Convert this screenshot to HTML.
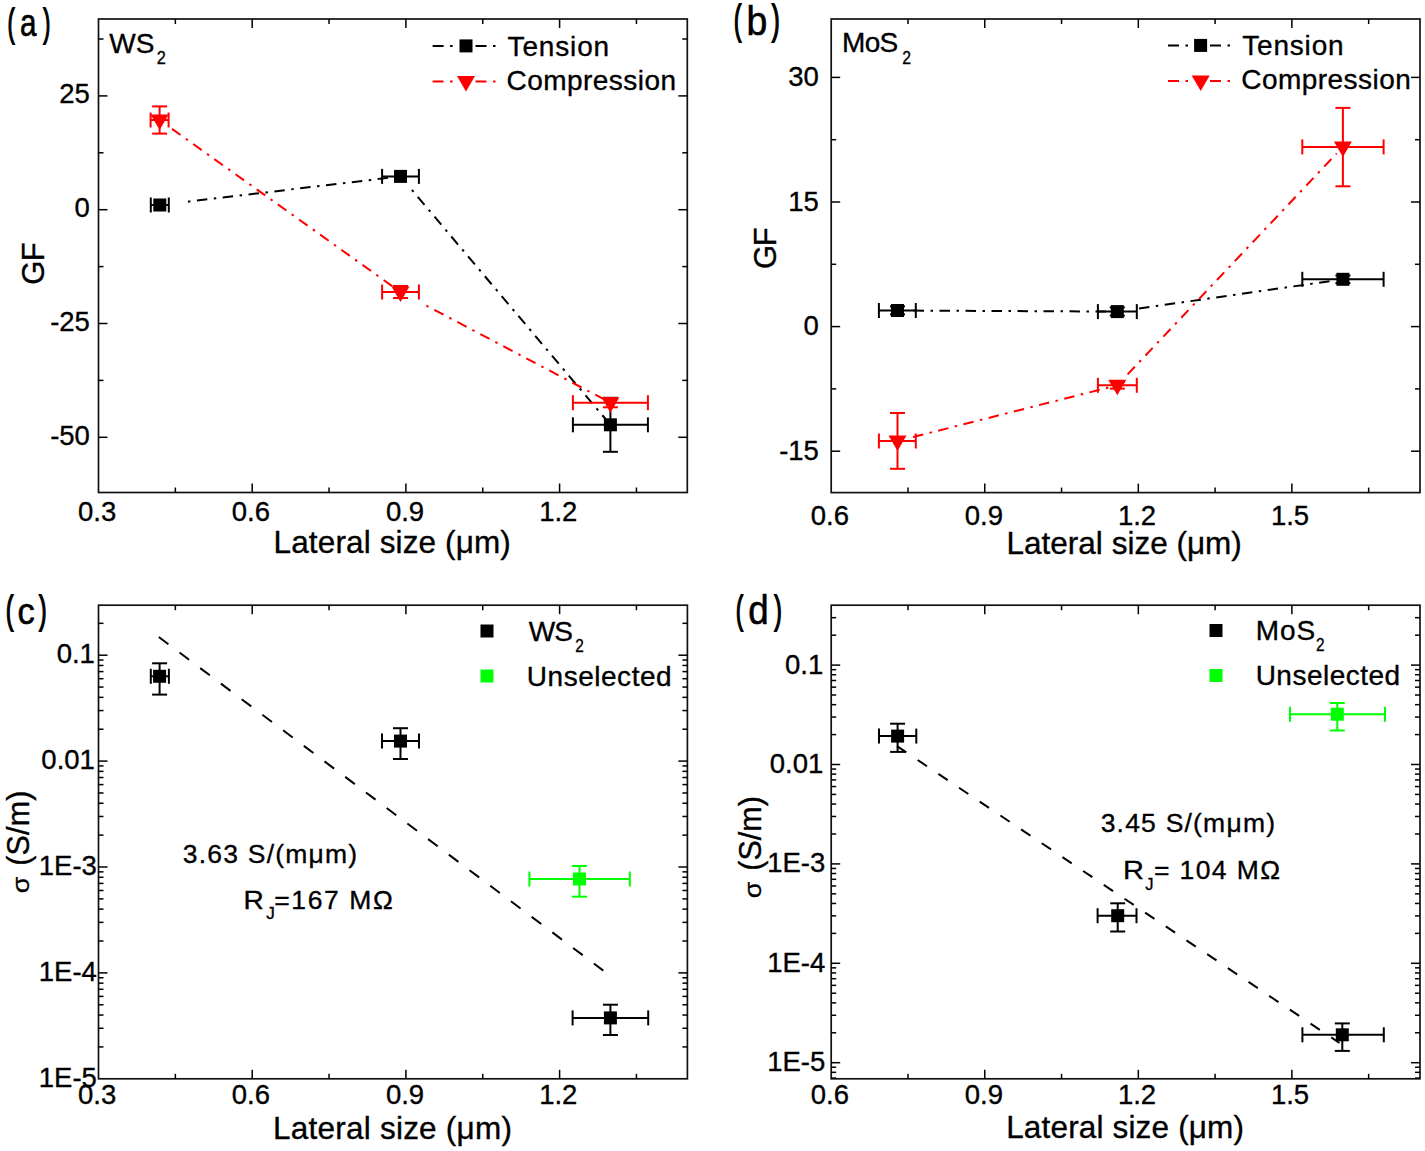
<!DOCTYPE html>
<html><head><meta charset="utf-8"><style>html,body{margin:0;padding:0;background:#fff;overflow:hidden;}svg{display:block;}text{font-family:"Liberation Sans",sans-serif;stroke:#000;stroke-width:0.35px;}</style></head>
<body><svg width="1425" height="1151" viewBox="0 0 1425 1151">
<rect width="1425" height="1151" fill="#fff"/>
<rect x="98.5" y="19" width="588.8" height="473.5" fill="none" stroke="#111" stroke-width="1.7"/>
<line x1="175.35" y1="492.50" x2="175.35" y2="487.50" stroke="#000" stroke-width="1.5"/>
<line x1="175.35" y1="19.00" x2="175.35" y2="24.00" stroke="#000" stroke-width="1.5"/>
<line x1="252.20" y1="492.50" x2="252.20" y2="483.50" stroke="#000" stroke-width="1.5"/>
<line x1="252.20" y1="19.00" x2="252.20" y2="28.00" stroke="#000" stroke-width="1.5"/>
<line x1="329.05" y1="492.50" x2="329.05" y2="487.50" stroke="#000" stroke-width="1.5"/>
<line x1="329.05" y1="19.00" x2="329.05" y2="24.00" stroke="#000" stroke-width="1.5"/>
<line x1="405.90" y1="492.50" x2="405.90" y2="483.50" stroke="#000" stroke-width="1.5"/>
<line x1="405.90" y1="19.00" x2="405.90" y2="28.00" stroke="#000" stroke-width="1.5"/>
<line x1="482.75" y1="492.50" x2="482.75" y2="487.50" stroke="#000" stroke-width="1.5"/>
<line x1="482.75" y1="19.00" x2="482.75" y2="24.00" stroke="#000" stroke-width="1.5"/>
<line x1="559.60" y1="492.50" x2="559.60" y2="483.50" stroke="#000" stroke-width="1.5"/>
<line x1="559.60" y1="19.00" x2="559.60" y2="28.00" stroke="#000" stroke-width="1.5"/>
<line x1="636.45" y1="492.50" x2="636.45" y2="487.50" stroke="#000" stroke-width="1.5"/>
<line x1="636.45" y1="19.00" x2="636.45" y2="24.00" stroke="#000" stroke-width="1.5"/>
<line x1="98.50" y1="39.00" x2="103.50" y2="39.00" stroke="#000" stroke-width="1.5"/>
<line x1="687.30" y1="39.00" x2="682.30" y2="39.00" stroke="#000" stroke-width="1.5"/>
<line x1="98.50" y1="95.90" x2="107.50" y2="95.90" stroke="#000" stroke-width="1.5"/>
<line x1="687.30" y1="95.90" x2="678.30" y2="95.90" stroke="#000" stroke-width="1.5"/>
<line x1="98.50" y1="152.80" x2="103.50" y2="152.80" stroke="#000" stroke-width="1.5"/>
<line x1="687.30" y1="152.80" x2="682.30" y2="152.80" stroke="#000" stroke-width="1.5"/>
<line x1="98.50" y1="209.70" x2="107.50" y2="209.70" stroke="#000" stroke-width="1.5"/>
<line x1="687.30" y1="209.70" x2="678.30" y2="209.70" stroke="#000" stroke-width="1.5"/>
<line x1="98.50" y1="266.60" x2="103.50" y2="266.60" stroke="#000" stroke-width="1.5"/>
<line x1="687.30" y1="266.60" x2="682.30" y2="266.60" stroke="#000" stroke-width="1.5"/>
<line x1="98.50" y1="323.50" x2="107.50" y2="323.50" stroke="#000" stroke-width="1.5"/>
<line x1="687.30" y1="323.50" x2="678.30" y2="323.50" stroke="#000" stroke-width="1.5"/>
<line x1="98.50" y1="380.40" x2="103.50" y2="380.40" stroke="#000" stroke-width="1.5"/>
<line x1="687.30" y1="380.40" x2="682.30" y2="380.40" stroke="#000" stroke-width="1.5"/>
<line x1="98.50" y1="437.30" x2="107.50" y2="437.30" stroke="#000" stroke-width="1.5"/>
<line x1="687.30" y1="437.30" x2="678.30" y2="437.30" stroke="#000" stroke-width="1.5"/>
<g font-family="Liberation Sans">
</g>
<path d="M187.95,201.65 L392.56,177.34" fill="none" stroke="#000" stroke-width="2" stroke-dasharray="10.5,6.5,2.5,6.5" stroke-dashoffset="17"/>
<path d="M411.92,189.92 L606.53,420.22" fill="none" stroke="#000" stroke-width="2" stroke-dasharray="10.5,6.5,2.5,6.5" stroke-dashoffset="17"/>
<path d="M172.05,128.89 L393.18,286.77" fill="none" stroke="#f00" stroke-width="2" stroke-dasharray="10.5,6.5,2.5,6.5" stroke-dashoffset="0"/>
<path d="M426.33,305.62 L603.32,398.97" fill="none" stroke="#f00" stroke-width="2" stroke-dasharray="10.5,6.5,2.5,6.5" stroke-dashoffset="17"/>
<line x1="150.80" y1="205.00" x2="168.80" y2="205.00" stroke="#000" stroke-width="2"/>
<line x1="150.80" y1="197.50" x2="150.80" y2="212.50" stroke="#000" stroke-width="2"/>
<line x1="168.80" y1="197.50" x2="168.80" y2="212.50" stroke="#000" stroke-width="2"/>
<rect x="153.30" y="198.50" width="13" height="13" fill="#000"/>
<line x1="382.10" y1="176.40" x2="418.90" y2="176.40" stroke="#000" stroke-width="2"/>
<line x1="382.10" y1="168.90" x2="382.10" y2="183.90" stroke="#000" stroke-width="2"/>
<line x1="418.90" y1="168.90" x2="418.90" y2="183.90" stroke="#000" stroke-width="2"/>
<rect x="394.00" y="169.90" width="13" height="13" fill="#000"/>
<line x1="572.90" y1="424.80" x2="647.90" y2="424.80" stroke="#000" stroke-width="2"/>
<line x1="572.90" y1="417.30" x2="572.90" y2="432.30" stroke="#000" stroke-width="2"/>
<line x1="647.90" y1="417.30" x2="647.90" y2="432.30" stroke="#000" stroke-width="2"/>
<line x1="610.40" y1="397.80" x2="610.40" y2="451.80" stroke="#000" stroke-width="2"/>
<line x1="602.90" y1="397.80" x2="617.90" y2="397.80" stroke="#000" stroke-width="2"/>
<line x1="602.90" y1="451.80" x2="617.90" y2="451.80" stroke="#000" stroke-width="2"/>
<rect x="603.90" y="418.30" width="13" height="13" fill="#000"/>
<line x1="150.60" y1="120.00" x2="168.60" y2="120.00" stroke="#f00" stroke-width="2"/>
<line x1="150.60" y1="112.50" x2="150.60" y2="127.50" stroke="#f00" stroke-width="2"/>
<line x1="168.60" y1="112.50" x2="168.60" y2="127.50" stroke="#f00" stroke-width="2"/>
<line x1="159.60" y1="106.40" x2="159.60" y2="133.60" stroke="#f00" stroke-width="2"/>
<line x1="152.10" y1="106.40" x2="167.10" y2="106.40" stroke="#f00" stroke-width="2"/>
<line x1="152.10" y1="133.60" x2="167.10" y2="133.60" stroke="#f00" stroke-width="2"/>
<path d="M150.60,114.50 L168.60,114.50 L159.60,130.00 Z" fill="#f00"/>
<line x1="382.10" y1="292.00" x2="418.90" y2="292.00" stroke="#f00" stroke-width="2"/>
<line x1="382.10" y1="284.50" x2="382.10" y2="299.50" stroke="#f00" stroke-width="2"/>
<line x1="418.90" y1="284.50" x2="418.90" y2="299.50" stroke="#f00" stroke-width="2"/>
<line x1="400.50" y1="286.00" x2="400.50" y2="298.00" stroke="#f00" stroke-width="2"/>
<line x1="393.00" y1="286.00" x2="408.00" y2="286.00" stroke="#f00" stroke-width="2"/>
<line x1="393.00" y1="298.00" x2="408.00" y2="298.00" stroke="#f00" stroke-width="2"/>
<path d="M391.50,286.50 L409.50,286.50 L400.50,302.00 Z" fill="#f00"/>
<line x1="572.90" y1="402.70" x2="647.90" y2="402.70" stroke="#f00" stroke-width="2"/>
<line x1="572.90" y1="395.20" x2="572.90" y2="410.20" stroke="#f00" stroke-width="2"/>
<line x1="647.90" y1="395.20" x2="647.90" y2="410.20" stroke="#f00" stroke-width="2"/>
<line x1="610.40" y1="398.10" x2="610.40" y2="407.30" stroke="#f00" stroke-width="2"/>
<line x1="602.90" y1="398.10" x2="617.90" y2="398.10" stroke="#f00" stroke-width="2"/>
<line x1="602.90" y1="407.30" x2="617.90" y2="407.30" stroke="#f00" stroke-width="2"/>
<path d="M601.40,397.20 L619.40,397.20 L610.40,412.70 Z" fill="#f00"/>
<path d="M432.60,45.90 L453.50,45.90" fill="none" stroke="#000" stroke-width="2" stroke-dasharray="11,6.5,2.5,6.3" stroke-dashoffset="0"/>
<path d="M475.50,45.90 L496.50,45.90" fill="none" stroke="#000" stroke-width="2" stroke-dasharray="11,6.5,2.5,6.3" stroke-dashoffset="0"/>
<rect x="459.50" y="39.40" width="13" height="13" fill="#000"/>
<path d="M432.60,81.50 L453.50,81.50" fill="none" stroke="#f00" stroke-width="2" stroke-dasharray="11,6.5,2.5,6.3" stroke-dashoffset="0"/>
<path d="M475.50,81.50 L496.50,81.50" fill="none" stroke="#f00" stroke-width="2" stroke-dasharray="11,6.5,2.5,6.3" stroke-dashoffset="0"/>
<path d="M457.00,76.00 L475.00,76.00 L466.00,91.50 Z" fill="#f00"/>
<rect x="831.2" y="19" width="588.8" height="473.6" fill="none" stroke="#111" stroke-width="1.7"/>
<line x1="907.98" y1="492.60" x2="907.98" y2="487.60" stroke="#000" stroke-width="1.5"/>
<line x1="907.98" y1="19.00" x2="907.98" y2="24.00" stroke="#000" stroke-width="1.5"/>
<line x1="984.76" y1="492.60" x2="984.76" y2="483.60" stroke="#000" stroke-width="1.5"/>
<line x1="984.76" y1="19.00" x2="984.76" y2="28.00" stroke="#000" stroke-width="1.5"/>
<line x1="1061.54" y1="492.60" x2="1061.54" y2="487.60" stroke="#000" stroke-width="1.5"/>
<line x1="1061.54" y1="19.00" x2="1061.54" y2="24.00" stroke="#000" stroke-width="1.5"/>
<line x1="1138.32" y1="492.60" x2="1138.32" y2="483.60" stroke="#000" stroke-width="1.5"/>
<line x1="1138.32" y1="19.00" x2="1138.32" y2="28.00" stroke="#000" stroke-width="1.5"/>
<line x1="1215.10" y1="492.60" x2="1215.10" y2="487.60" stroke="#000" stroke-width="1.5"/>
<line x1="1215.10" y1="19.00" x2="1215.10" y2="24.00" stroke="#000" stroke-width="1.5"/>
<line x1="1291.88" y1="492.60" x2="1291.88" y2="483.60" stroke="#000" stroke-width="1.5"/>
<line x1="1291.88" y1="19.00" x2="1291.88" y2="28.00" stroke="#000" stroke-width="1.5"/>
<line x1="1368.66" y1="492.60" x2="1368.66" y2="487.60" stroke="#000" stroke-width="1.5"/>
<line x1="1368.66" y1="19.00" x2="1368.66" y2="24.00" stroke="#000" stroke-width="1.5"/>
<line x1="831.20" y1="77.40" x2="840.20" y2="77.40" stroke="#000" stroke-width="1.5"/>
<line x1="1420.00" y1="77.40" x2="1411.00" y2="77.40" stroke="#000" stroke-width="1.5"/>
<line x1="831.20" y1="139.70" x2="836.20" y2="139.70" stroke="#000" stroke-width="1.5"/>
<line x1="1420.00" y1="139.70" x2="1415.00" y2="139.70" stroke="#000" stroke-width="1.5"/>
<line x1="831.20" y1="202.00" x2="840.20" y2="202.00" stroke="#000" stroke-width="1.5"/>
<line x1="1420.00" y1="202.00" x2="1411.00" y2="202.00" stroke="#000" stroke-width="1.5"/>
<line x1="831.20" y1="264.30" x2="836.20" y2="264.30" stroke="#000" stroke-width="1.5"/>
<line x1="1420.00" y1="264.30" x2="1415.00" y2="264.30" stroke="#000" stroke-width="1.5"/>
<line x1="831.20" y1="326.60" x2="840.20" y2="326.60" stroke="#000" stroke-width="1.5"/>
<line x1="1420.00" y1="326.60" x2="1411.00" y2="326.60" stroke="#000" stroke-width="1.5"/>
<line x1="831.20" y1="388.90" x2="836.20" y2="388.90" stroke="#000" stroke-width="1.5"/>
<line x1="1420.00" y1="388.90" x2="1415.00" y2="388.90" stroke="#000" stroke-width="1.5"/>
<line x1="831.20" y1="451.20" x2="840.20" y2="451.20" stroke="#000" stroke-width="1.5"/>
<line x1="1420.00" y1="451.20" x2="1411.00" y2="451.20" stroke="#000" stroke-width="1.5"/>
<path d="M913.50,310.58 L1109.30,311.56" fill="none" stroke="#000" stroke-width="2" stroke-dasharray="10.5,6.5,2.5,6.5" stroke-dashoffset="0"/>
<path d="M1138.98,308.50 L1334.98,280.43" fill="none" stroke="#000" stroke-width="2" stroke-dasharray="10.5,6.5,2.5,6.5" stroke-dashoffset="0"/>
<path d="M913.01,437.07 L1108.58,387.51" fill="none" stroke="#f00" stroke-width="2" stroke-dasharray="10.5,6.5,2.5,6.5" stroke-dashoffset="0"/>
<path d="M1127.61,374.40 L1336.71,153.44" fill="none" stroke="#f00" stroke-width="2" stroke-dasharray="10.5,6.5,2.5,6.5" stroke-dashoffset="0"/>
<line x1="878.90" y1="310.50" x2="915.80" y2="310.50" stroke="#000" stroke-width="2"/>
<line x1="878.90" y1="303.00" x2="878.90" y2="318.00" stroke="#000" stroke-width="2"/>
<line x1="915.80" y1="303.00" x2="915.80" y2="318.00" stroke="#000" stroke-width="2"/>
<line x1="897.50" y1="306.40" x2="897.50" y2="314.40" stroke="#000" stroke-width="2"/>
<line x1="890.00" y1="306.40" x2="905.00" y2="306.40" stroke="#000" stroke-width="2"/>
<line x1="890.00" y1="314.40" x2="905.00" y2="314.40" stroke="#000" stroke-width="2"/>
<rect x="891.00" y="304.00" width="13" height="13" fill="#000"/>
<line x1="1097.90" y1="311.60" x2="1136.80" y2="311.60" stroke="#000" stroke-width="2"/>
<line x1="1097.90" y1="304.10" x2="1097.90" y2="319.10" stroke="#000" stroke-width="2"/>
<line x1="1136.80" y1="304.10" x2="1136.80" y2="319.10" stroke="#000" stroke-width="2"/>
<line x1="1117.30" y1="307.40" x2="1117.30" y2="315.60" stroke="#000" stroke-width="2"/>
<line x1="1109.80" y1="307.40" x2="1124.80" y2="307.40" stroke="#000" stroke-width="2"/>
<line x1="1109.80" y1="315.60" x2="1124.80" y2="315.60" stroke="#000" stroke-width="2"/>
<rect x="1110.80" y="305.10" width="13" height="13" fill="#000"/>
<line x1="1302.30" y1="279.30" x2="1383.60" y2="279.30" stroke="#000" stroke-width="2"/>
<line x1="1302.30" y1="271.80" x2="1302.30" y2="286.80" stroke="#000" stroke-width="2"/>
<line x1="1383.60" y1="271.80" x2="1383.60" y2="286.80" stroke="#000" stroke-width="2"/>
<line x1="1342.90" y1="275.50" x2="1342.90" y2="283.10" stroke="#000" stroke-width="2"/>
<line x1="1335.40" y1="275.50" x2="1350.40" y2="275.50" stroke="#000" stroke-width="2"/>
<line x1="1335.40" y1="283.10" x2="1350.40" y2="283.10" stroke="#000" stroke-width="2"/>
<rect x="1336.40" y="272.80" width="13" height="13" fill="#000"/>
<line x1="878.90" y1="441.00" x2="915.80" y2="441.00" stroke="#f00" stroke-width="2"/>
<line x1="878.90" y1="433.50" x2="878.90" y2="448.50" stroke="#f00" stroke-width="2"/>
<line x1="915.80" y1="433.50" x2="915.80" y2="448.50" stroke="#f00" stroke-width="2"/>
<line x1="897.50" y1="413.00" x2="897.50" y2="468.80" stroke="#f00" stroke-width="2"/>
<line x1="890.00" y1="413.00" x2="905.00" y2="413.00" stroke="#f00" stroke-width="2"/>
<line x1="890.00" y1="468.80" x2="905.00" y2="468.80" stroke="#f00" stroke-width="2"/>
<path d="M888.50,435.50 L906.50,435.50 L897.50,451.00 Z" fill="#f00"/>
<line x1="1097.90" y1="385.30" x2="1136.80" y2="385.30" stroke="#f00" stroke-width="2"/>
<line x1="1097.90" y1="377.80" x2="1097.90" y2="392.80" stroke="#f00" stroke-width="2"/>
<line x1="1136.80" y1="377.80" x2="1136.80" y2="392.80" stroke="#f00" stroke-width="2"/>
<line x1="1117.30" y1="382.00" x2="1117.30" y2="388.60" stroke="#f00" stroke-width="2"/>
<line x1="1109.80" y1="382.00" x2="1124.80" y2="382.00" stroke="#f00" stroke-width="2"/>
<line x1="1109.80" y1="388.60" x2="1124.80" y2="388.60" stroke="#f00" stroke-width="2"/>
<path d="M1108.30,379.80 L1126.30,379.80 L1117.30,395.30 Z" fill="#f00"/>
<line x1="1302.30" y1="146.90" x2="1383.60" y2="146.90" stroke="#f00" stroke-width="2"/>
<line x1="1302.30" y1="139.40" x2="1302.30" y2="154.40" stroke="#f00" stroke-width="2"/>
<line x1="1383.60" y1="139.40" x2="1383.60" y2="154.40" stroke="#f00" stroke-width="2"/>
<line x1="1342.90" y1="107.90" x2="1342.90" y2="186.30" stroke="#f00" stroke-width="2"/>
<line x1="1335.40" y1="107.90" x2="1350.40" y2="107.90" stroke="#f00" stroke-width="2"/>
<line x1="1335.40" y1="186.30" x2="1350.40" y2="186.30" stroke="#f00" stroke-width="2"/>
<path d="M1333.90,141.40 L1351.90,141.40 L1342.90,156.90 Z" fill="#f00"/>
<path d="M1168.00,45.40 L1189.00,45.40" fill="none" stroke="#000" stroke-width="2" stroke-dasharray="11,6.5,2.5,6.3" stroke-dashoffset="0"/>
<path d="M1210.00,45.40 L1231.00,45.40" fill="none" stroke="#000" stroke-width="2" stroke-dasharray="11,6.5,2.5,6.3" stroke-dashoffset="0"/>
<rect x="1194.10" y="38.90" width="13" height="13" fill="#000"/>
<path d="M1168.00,81.00 L1189.00,81.00" fill="none" stroke="#f00" stroke-width="2" stroke-dasharray="11,6.5,2.5,6.3" stroke-dashoffset="0"/>
<path d="M1210.00,81.00 L1231.00,81.00" fill="none" stroke="#f00" stroke-width="2" stroke-dasharray="11,6.5,2.5,6.3" stroke-dashoffset="0"/>
<path d="M1191.70,75.50 L1209.70,75.50 L1200.70,91.00 Z" fill="#f00"/>
<rect x="98.5" y="605.2" width="588.9" height="473.5999999999999" fill="none" stroke="#111" stroke-width="1.7"/>
<line x1="175.35" y1="1078.80" x2="175.35" y2="1073.80" stroke="#000" stroke-width="1.5"/>
<line x1="175.35" y1="605.20" x2="175.35" y2="610.20" stroke="#000" stroke-width="1.5"/>
<line x1="252.20" y1="1078.80" x2="252.20" y2="1069.80" stroke="#000" stroke-width="1.5"/>
<line x1="252.20" y1="605.20" x2="252.20" y2="614.20" stroke="#000" stroke-width="1.5"/>
<line x1="329.05" y1="1078.80" x2="329.05" y2="1073.80" stroke="#000" stroke-width="1.5"/>
<line x1="329.05" y1="605.20" x2="329.05" y2="610.20" stroke="#000" stroke-width="1.5"/>
<line x1="405.90" y1="1078.80" x2="405.90" y2="1069.80" stroke="#000" stroke-width="1.5"/>
<line x1="405.90" y1="605.20" x2="405.90" y2="614.20" stroke="#000" stroke-width="1.5"/>
<line x1="482.75" y1="1078.80" x2="482.75" y2="1073.80" stroke="#000" stroke-width="1.5"/>
<line x1="482.75" y1="605.20" x2="482.75" y2="610.20" stroke="#000" stroke-width="1.5"/>
<line x1="559.60" y1="1078.80" x2="559.60" y2="1069.80" stroke="#000" stroke-width="1.5"/>
<line x1="559.60" y1="605.20" x2="559.60" y2="614.20" stroke="#000" stroke-width="1.5"/>
<line x1="636.45" y1="1078.80" x2="636.45" y2="1073.80" stroke="#000" stroke-width="1.5"/>
<line x1="636.45" y1="605.20" x2="636.45" y2="610.20" stroke="#000" stroke-width="1.5"/>
<line x1="98.50" y1="1046.92" x2="103.50" y2="1046.92" stroke="#000" stroke-width="1.5"/>
<line x1="687.40" y1="1046.92" x2="682.40" y2="1046.92" stroke="#000" stroke-width="1.5"/>
<line x1="98.50" y1="1028.27" x2="103.50" y2="1028.27" stroke="#000" stroke-width="1.5"/>
<line x1="687.40" y1="1028.27" x2="682.40" y2="1028.27" stroke="#000" stroke-width="1.5"/>
<line x1="98.50" y1="1015.04" x2="103.50" y2="1015.04" stroke="#000" stroke-width="1.5"/>
<line x1="687.40" y1="1015.04" x2="682.40" y2="1015.04" stroke="#000" stroke-width="1.5"/>
<line x1="98.50" y1="1004.78" x2="103.50" y2="1004.78" stroke="#000" stroke-width="1.5"/>
<line x1="687.40" y1="1004.78" x2="682.40" y2="1004.78" stroke="#000" stroke-width="1.5"/>
<line x1="98.50" y1="996.39" x2="103.50" y2="996.39" stroke="#000" stroke-width="1.5"/>
<line x1="687.40" y1="996.39" x2="682.40" y2="996.39" stroke="#000" stroke-width="1.5"/>
<line x1="98.50" y1="989.30" x2="103.50" y2="989.30" stroke="#000" stroke-width="1.5"/>
<line x1="687.40" y1="989.30" x2="682.40" y2="989.30" stroke="#000" stroke-width="1.5"/>
<line x1="98.50" y1="983.16" x2="103.50" y2="983.16" stroke="#000" stroke-width="1.5"/>
<line x1="687.40" y1="983.16" x2="682.40" y2="983.16" stroke="#000" stroke-width="1.5"/>
<line x1="98.50" y1="977.75" x2="103.50" y2="977.75" stroke="#000" stroke-width="1.5"/>
<line x1="687.40" y1="977.75" x2="682.40" y2="977.75" stroke="#000" stroke-width="1.5"/>
<line x1="98.50" y1="972.90" x2="107.50" y2="972.90" stroke="#000" stroke-width="1.5"/>
<line x1="687.40" y1="972.90" x2="678.40" y2="972.90" stroke="#000" stroke-width="1.5"/>
<line x1="98.50" y1="941.02" x2="103.50" y2="941.02" stroke="#000" stroke-width="1.5"/>
<line x1="687.40" y1="941.02" x2="682.40" y2="941.02" stroke="#000" stroke-width="1.5"/>
<line x1="98.50" y1="922.37" x2="103.50" y2="922.37" stroke="#000" stroke-width="1.5"/>
<line x1="687.40" y1="922.37" x2="682.40" y2="922.37" stroke="#000" stroke-width="1.5"/>
<line x1="98.50" y1="909.14" x2="103.50" y2="909.14" stroke="#000" stroke-width="1.5"/>
<line x1="687.40" y1="909.14" x2="682.40" y2="909.14" stroke="#000" stroke-width="1.5"/>
<line x1="98.50" y1="898.88" x2="103.50" y2="898.88" stroke="#000" stroke-width="1.5"/>
<line x1="687.40" y1="898.88" x2="682.40" y2="898.88" stroke="#000" stroke-width="1.5"/>
<line x1="98.50" y1="890.49" x2="103.50" y2="890.49" stroke="#000" stroke-width="1.5"/>
<line x1="687.40" y1="890.49" x2="682.40" y2="890.49" stroke="#000" stroke-width="1.5"/>
<line x1="98.50" y1="883.40" x2="103.50" y2="883.40" stroke="#000" stroke-width="1.5"/>
<line x1="687.40" y1="883.40" x2="682.40" y2="883.40" stroke="#000" stroke-width="1.5"/>
<line x1="98.50" y1="877.26" x2="103.50" y2="877.26" stroke="#000" stroke-width="1.5"/>
<line x1="687.40" y1="877.26" x2="682.40" y2="877.26" stroke="#000" stroke-width="1.5"/>
<line x1="98.50" y1="871.85" x2="103.50" y2="871.85" stroke="#000" stroke-width="1.5"/>
<line x1="687.40" y1="871.85" x2="682.40" y2="871.85" stroke="#000" stroke-width="1.5"/>
<line x1="98.50" y1="867.00" x2="107.50" y2="867.00" stroke="#000" stroke-width="1.5"/>
<line x1="687.40" y1="867.00" x2="678.40" y2="867.00" stroke="#000" stroke-width="1.5"/>
<line x1="98.50" y1="835.12" x2="103.50" y2="835.12" stroke="#000" stroke-width="1.5"/>
<line x1="687.40" y1="835.12" x2="682.40" y2="835.12" stroke="#000" stroke-width="1.5"/>
<line x1="98.50" y1="816.47" x2="103.50" y2="816.47" stroke="#000" stroke-width="1.5"/>
<line x1="687.40" y1="816.47" x2="682.40" y2="816.47" stroke="#000" stroke-width="1.5"/>
<line x1="98.50" y1="803.24" x2="103.50" y2="803.24" stroke="#000" stroke-width="1.5"/>
<line x1="687.40" y1="803.24" x2="682.40" y2="803.24" stroke="#000" stroke-width="1.5"/>
<line x1="98.50" y1="792.98" x2="103.50" y2="792.98" stroke="#000" stroke-width="1.5"/>
<line x1="687.40" y1="792.98" x2="682.40" y2="792.98" stroke="#000" stroke-width="1.5"/>
<line x1="98.50" y1="784.59" x2="103.50" y2="784.59" stroke="#000" stroke-width="1.5"/>
<line x1="687.40" y1="784.59" x2="682.40" y2="784.59" stroke="#000" stroke-width="1.5"/>
<line x1="98.50" y1="777.50" x2="103.50" y2="777.50" stroke="#000" stroke-width="1.5"/>
<line x1="687.40" y1="777.50" x2="682.40" y2="777.50" stroke="#000" stroke-width="1.5"/>
<line x1="98.50" y1="771.36" x2="103.50" y2="771.36" stroke="#000" stroke-width="1.5"/>
<line x1="687.40" y1="771.36" x2="682.40" y2="771.36" stroke="#000" stroke-width="1.5"/>
<line x1="98.50" y1="765.95" x2="103.50" y2="765.95" stroke="#000" stroke-width="1.5"/>
<line x1="687.40" y1="765.95" x2="682.40" y2="765.95" stroke="#000" stroke-width="1.5"/>
<line x1="98.50" y1="761.10" x2="107.50" y2="761.10" stroke="#000" stroke-width="1.5"/>
<line x1="687.40" y1="761.10" x2="678.40" y2="761.10" stroke="#000" stroke-width="1.5"/>
<line x1="98.50" y1="729.22" x2="103.50" y2="729.22" stroke="#000" stroke-width="1.5"/>
<line x1="687.40" y1="729.22" x2="682.40" y2="729.22" stroke="#000" stroke-width="1.5"/>
<line x1="98.50" y1="710.57" x2="103.50" y2="710.57" stroke="#000" stroke-width="1.5"/>
<line x1="687.40" y1="710.57" x2="682.40" y2="710.57" stroke="#000" stroke-width="1.5"/>
<line x1="98.50" y1="697.34" x2="103.50" y2="697.34" stroke="#000" stroke-width="1.5"/>
<line x1="687.40" y1="697.34" x2="682.40" y2="697.34" stroke="#000" stroke-width="1.5"/>
<line x1="98.50" y1="687.08" x2="103.50" y2="687.08" stroke="#000" stroke-width="1.5"/>
<line x1="687.40" y1="687.08" x2="682.40" y2="687.08" stroke="#000" stroke-width="1.5"/>
<line x1="98.50" y1="678.69" x2="103.50" y2="678.69" stroke="#000" stroke-width="1.5"/>
<line x1="687.40" y1="678.69" x2="682.40" y2="678.69" stroke="#000" stroke-width="1.5"/>
<line x1="98.50" y1="671.60" x2="103.50" y2="671.60" stroke="#000" stroke-width="1.5"/>
<line x1="687.40" y1="671.60" x2="682.40" y2="671.60" stroke="#000" stroke-width="1.5"/>
<line x1="98.50" y1="665.46" x2="103.50" y2="665.46" stroke="#000" stroke-width="1.5"/>
<line x1="687.40" y1="665.46" x2="682.40" y2="665.46" stroke="#000" stroke-width="1.5"/>
<line x1="98.50" y1="660.05" x2="103.50" y2="660.05" stroke="#000" stroke-width="1.5"/>
<line x1="687.40" y1="660.05" x2="682.40" y2="660.05" stroke="#000" stroke-width="1.5"/>
<line x1="98.50" y1="655.20" x2="107.50" y2="655.20" stroke="#000" stroke-width="1.5"/>
<line x1="687.40" y1="655.20" x2="678.40" y2="655.20" stroke="#000" stroke-width="1.5"/>
<line x1="98.50" y1="623.32" x2="103.50" y2="623.32" stroke="#000" stroke-width="1.5"/>
<line x1="687.40" y1="623.32" x2="682.40" y2="623.32" stroke="#000" stroke-width="1.5"/>
<path d="M158.8,637 L603.3,970.6" stroke="#000" stroke-width="2" stroke-dasharray="12,13.9" fill="none"/>
<line x1="150.80" y1="676.30" x2="168.90" y2="676.30" stroke="#000" stroke-width="2"/>
<line x1="150.80" y1="668.80" x2="150.80" y2="683.80" stroke="#000" stroke-width="2"/>
<line x1="168.90" y1="668.80" x2="168.90" y2="683.80" stroke="#000" stroke-width="2"/>
<line x1="159.60" y1="663.30" x2="159.60" y2="694.60" stroke="#000" stroke-width="2"/>
<line x1="152.10" y1="663.30" x2="167.10" y2="663.30" stroke="#000" stroke-width="2"/>
<line x1="152.10" y1="694.60" x2="167.10" y2="694.60" stroke="#000" stroke-width="2"/>
<rect x="153.10" y="669.80" width="13" height="13" fill="#000"/>
<line x1="382.00" y1="741.10" x2="419.00" y2="741.10" stroke="#000" stroke-width="2"/>
<line x1="382.00" y1="733.60" x2="382.00" y2="748.60" stroke="#000" stroke-width="2"/>
<line x1="419.00" y1="733.60" x2="419.00" y2="748.60" stroke="#000" stroke-width="2"/>
<line x1="400.50" y1="728.20" x2="400.50" y2="759.00" stroke="#000" stroke-width="2"/>
<line x1="393.00" y1="728.20" x2="408.00" y2="728.20" stroke="#000" stroke-width="2"/>
<line x1="393.00" y1="759.00" x2="408.00" y2="759.00" stroke="#000" stroke-width="2"/>
<rect x="394.00" y="734.60" width="13" height="13" fill="#000"/>
<line x1="572.60" y1="1017.90" x2="648.20" y2="1017.90" stroke="#000" stroke-width="2"/>
<line x1="572.60" y1="1010.40" x2="572.60" y2="1025.40" stroke="#000" stroke-width="2"/>
<line x1="648.20" y1="1010.40" x2="648.20" y2="1025.40" stroke="#000" stroke-width="2"/>
<line x1="610.40" y1="1004.70" x2="610.40" y2="1035.00" stroke="#000" stroke-width="2"/>
<line x1="602.90" y1="1004.70" x2="617.90" y2="1004.70" stroke="#000" stroke-width="2"/>
<line x1="602.90" y1="1035.00" x2="617.90" y2="1035.00" stroke="#000" stroke-width="2"/>
<rect x="603.90" y="1011.40" width="13" height="13" fill="#000"/>
<line x1="529.40" y1="879.00" x2="629.80" y2="879.00" stroke="#0f0" stroke-width="2"/>
<line x1="529.40" y1="871.50" x2="529.40" y2="886.50" stroke="#0f0" stroke-width="2"/>
<line x1="629.80" y1="871.50" x2="629.80" y2="886.50" stroke="#0f0" stroke-width="2"/>
<line x1="579.50" y1="866.00" x2="579.50" y2="896.70" stroke="#0f0" stroke-width="2"/>
<line x1="572.00" y1="866.00" x2="587.00" y2="866.00" stroke="#0f0" stroke-width="2"/>
<line x1="572.00" y1="896.70" x2="587.00" y2="896.70" stroke="#0f0" stroke-width="2"/>
<rect x="573.00" y="872.50" width="13" height="13" fill="#0f0"/>
<rect x="480.50" y="624.50" width="13" height="13" fill="#000"/>
<rect x="480.50" y="669.50" width="13" height="13" fill="#0f0"/>
<rect x="831.2" y="605.2" width="588.8" height="473.5999999999999" fill="none" stroke="#111" stroke-width="1.7"/>
<line x1="907.98" y1="1078.80" x2="907.98" y2="1073.80" stroke="#000" stroke-width="1.5"/>
<line x1="907.98" y1="605.20" x2="907.98" y2="610.20" stroke="#000" stroke-width="1.5"/>
<line x1="984.76" y1="1078.80" x2="984.76" y2="1069.80" stroke="#000" stroke-width="1.5"/>
<line x1="984.76" y1="605.20" x2="984.76" y2="614.20" stroke="#000" stroke-width="1.5"/>
<line x1="1061.54" y1="1078.80" x2="1061.54" y2="1073.80" stroke="#000" stroke-width="1.5"/>
<line x1="1061.54" y1="605.20" x2="1061.54" y2="610.20" stroke="#000" stroke-width="1.5"/>
<line x1="1138.32" y1="1078.80" x2="1138.32" y2="1069.80" stroke="#000" stroke-width="1.5"/>
<line x1="1138.32" y1="605.20" x2="1138.32" y2="614.20" stroke="#000" stroke-width="1.5"/>
<line x1="1215.10" y1="1078.80" x2="1215.10" y2="1073.80" stroke="#000" stroke-width="1.5"/>
<line x1="1215.10" y1="605.20" x2="1215.10" y2="610.20" stroke="#000" stroke-width="1.5"/>
<line x1="1291.88" y1="1078.80" x2="1291.88" y2="1069.80" stroke="#000" stroke-width="1.5"/>
<line x1="1291.88" y1="605.20" x2="1291.88" y2="614.20" stroke="#000" stroke-width="1.5"/>
<line x1="1368.66" y1="1078.80" x2="1368.66" y2="1073.80" stroke="#000" stroke-width="1.5"/>
<line x1="1368.66" y1="605.20" x2="1368.66" y2="610.20" stroke="#000" stroke-width="1.5"/>
<line x1="831.20" y1="1078.10" x2="836.20" y2="1078.10" stroke="#000" stroke-width="1.5"/>
<line x1="1420.00" y1="1078.10" x2="1415.00" y2="1078.10" stroke="#000" stroke-width="1.5"/>
<line x1="831.20" y1="1072.33" x2="836.20" y2="1072.33" stroke="#000" stroke-width="1.5"/>
<line x1="1420.00" y1="1072.33" x2="1415.00" y2="1072.33" stroke="#000" stroke-width="1.5"/>
<line x1="831.20" y1="1067.25" x2="836.20" y2="1067.25" stroke="#000" stroke-width="1.5"/>
<line x1="1420.00" y1="1067.25" x2="1415.00" y2="1067.25" stroke="#000" stroke-width="1.5"/>
<line x1="831.20" y1="1062.70" x2="840.20" y2="1062.70" stroke="#000" stroke-width="1.5"/>
<line x1="1420.00" y1="1062.70" x2="1411.00" y2="1062.70" stroke="#000" stroke-width="1.5"/>
<line x1="831.20" y1="1032.78" x2="836.20" y2="1032.78" stroke="#000" stroke-width="1.5"/>
<line x1="1420.00" y1="1032.78" x2="1415.00" y2="1032.78" stroke="#000" stroke-width="1.5"/>
<line x1="831.20" y1="1015.27" x2="836.20" y2="1015.27" stroke="#000" stroke-width="1.5"/>
<line x1="1420.00" y1="1015.27" x2="1415.00" y2="1015.27" stroke="#000" stroke-width="1.5"/>
<line x1="831.20" y1="1002.86" x2="836.20" y2="1002.86" stroke="#000" stroke-width="1.5"/>
<line x1="1420.00" y1="1002.86" x2="1415.00" y2="1002.86" stroke="#000" stroke-width="1.5"/>
<line x1="831.20" y1="993.22" x2="836.20" y2="993.22" stroke="#000" stroke-width="1.5"/>
<line x1="1420.00" y1="993.22" x2="1415.00" y2="993.22" stroke="#000" stroke-width="1.5"/>
<line x1="831.20" y1="985.35" x2="836.20" y2="985.35" stroke="#000" stroke-width="1.5"/>
<line x1="1420.00" y1="985.35" x2="1415.00" y2="985.35" stroke="#000" stroke-width="1.5"/>
<line x1="831.20" y1="978.70" x2="836.20" y2="978.70" stroke="#000" stroke-width="1.5"/>
<line x1="1420.00" y1="978.70" x2="1415.00" y2="978.70" stroke="#000" stroke-width="1.5"/>
<line x1="831.20" y1="972.93" x2="836.20" y2="972.93" stroke="#000" stroke-width="1.5"/>
<line x1="1420.00" y1="972.93" x2="1415.00" y2="972.93" stroke="#000" stroke-width="1.5"/>
<line x1="831.20" y1="967.85" x2="836.20" y2="967.85" stroke="#000" stroke-width="1.5"/>
<line x1="1420.00" y1="967.85" x2="1415.00" y2="967.85" stroke="#000" stroke-width="1.5"/>
<line x1="831.20" y1="963.30" x2="840.20" y2="963.30" stroke="#000" stroke-width="1.5"/>
<line x1="1420.00" y1="963.30" x2="1411.00" y2="963.30" stroke="#000" stroke-width="1.5"/>
<line x1="831.20" y1="933.38" x2="836.20" y2="933.38" stroke="#000" stroke-width="1.5"/>
<line x1="1420.00" y1="933.38" x2="1415.00" y2="933.38" stroke="#000" stroke-width="1.5"/>
<line x1="831.20" y1="915.87" x2="836.20" y2="915.87" stroke="#000" stroke-width="1.5"/>
<line x1="1420.00" y1="915.87" x2="1415.00" y2="915.87" stroke="#000" stroke-width="1.5"/>
<line x1="831.20" y1="903.46" x2="836.20" y2="903.46" stroke="#000" stroke-width="1.5"/>
<line x1="1420.00" y1="903.46" x2="1415.00" y2="903.46" stroke="#000" stroke-width="1.5"/>
<line x1="831.20" y1="893.82" x2="836.20" y2="893.82" stroke="#000" stroke-width="1.5"/>
<line x1="1420.00" y1="893.82" x2="1415.00" y2="893.82" stroke="#000" stroke-width="1.5"/>
<line x1="831.20" y1="885.95" x2="836.20" y2="885.95" stroke="#000" stroke-width="1.5"/>
<line x1="1420.00" y1="885.95" x2="1415.00" y2="885.95" stroke="#000" stroke-width="1.5"/>
<line x1="831.20" y1="879.30" x2="836.20" y2="879.30" stroke="#000" stroke-width="1.5"/>
<line x1="1420.00" y1="879.30" x2="1415.00" y2="879.30" stroke="#000" stroke-width="1.5"/>
<line x1="831.20" y1="873.53" x2="836.20" y2="873.53" stroke="#000" stroke-width="1.5"/>
<line x1="1420.00" y1="873.53" x2="1415.00" y2="873.53" stroke="#000" stroke-width="1.5"/>
<line x1="831.20" y1="868.45" x2="836.20" y2="868.45" stroke="#000" stroke-width="1.5"/>
<line x1="1420.00" y1="868.45" x2="1415.00" y2="868.45" stroke="#000" stroke-width="1.5"/>
<line x1="831.20" y1="863.90" x2="840.20" y2="863.90" stroke="#000" stroke-width="1.5"/>
<line x1="1420.00" y1="863.90" x2="1411.00" y2="863.90" stroke="#000" stroke-width="1.5"/>
<line x1="831.20" y1="833.98" x2="836.20" y2="833.98" stroke="#000" stroke-width="1.5"/>
<line x1="1420.00" y1="833.98" x2="1415.00" y2="833.98" stroke="#000" stroke-width="1.5"/>
<line x1="831.20" y1="816.47" x2="836.20" y2="816.47" stroke="#000" stroke-width="1.5"/>
<line x1="1420.00" y1="816.47" x2="1415.00" y2="816.47" stroke="#000" stroke-width="1.5"/>
<line x1="831.20" y1="804.06" x2="836.20" y2="804.06" stroke="#000" stroke-width="1.5"/>
<line x1="1420.00" y1="804.06" x2="1415.00" y2="804.06" stroke="#000" stroke-width="1.5"/>
<line x1="831.20" y1="794.42" x2="836.20" y2="794.42" stroke="#000" stroke-width="1.5"/>
<line x1="1420.00" y1="794.42" x2="1415.00" y2="794.42" stroke="#000" stroke-width="1.5"/>
<line x1="831.20" y1="786.55" x2="836.20" y2="786.55" stroke="#000" stroke-width="1.5"/>
<line x1="1420.00" y1="786.55" x2="1415.00" y2="786.55" stroke="#000" stroke-width="1.5"/>
<line x1="831.20" y1="779.90" x2="836.20" y2="779.90" stroke="#000" stroke-width="1.5"/>
<line x1="1420.00" y1="779.90" x2="1415.00" y2="779.90" stroke="#000" stroke-width="1.5"/>
<line x1="831.20" y1="774.13" x2="836.20" y2="774.13" stroke="#000" stroke-width="1.5"/>
<line x1="1420.00" y1="774.13" x2="1415.00" y2="774.13" stroke="#000" stroke-width="1.5"/>
<line x1="831.20" y1="769.05" x2="836.20" y2="769.05" stroke="#000" stroke-width="1.5"/>
<line x1="1420.00" y1="769.05" x2="1415.00" y2="769.05" stroke="#000" stroke-width="1.5"/>
<line x1="831.20" y1="764.50" x2="840.20" y2="764.50" stroke="#000" stroke-width="1.5"/>
<line x1="1420.00" y1="764.50" x2="1411.00" y2="764.50" stroke="#000" stroke-width="1.5"/>
<line x1="831.20" y1="734.58" x2="836.20" y2="734.58" stroke="#000" stroke-width="1.5"/>
<line x1="1420.00" y1="734.58" x2="1415.00" y2="734.58" stroke="#000" stroke-width="1.5"/>
<line x1="831.20" y1="717.07" x2="836.20" y2="717.07" stroke="#000" stroke-width="1.5"/>
<line x1="1420.00" y1="717.07" x2="1415.00" y2="717.07" stroke="#000" stroke-width="1.5"/>
<line x1="831.20" y1="704.66" x2="836.20" y2="704.66" stroke="#000" stroke-width="1.5"/>
<line x1="1420.00" y1="704.66" x2="1415.00" y2="704.66" stroke="#000" stroke-width="1.5"/>
<line x1="831.20" y1="695.02" x2="836.20" y2="695.02" stroke="#000" stroke-width="1.5"/>
<line x1="1420.00" y1="695.02" x2="1415.00" y2="695.02" stroke="#000" stroke-width="1.5"/>
<line x1="831.20" y1="687.15" x2="836.20" y2="687.15" stroke="#000" stroke-width="1.5"/>
<line x1="1420.00" y1="687.15" x2="1415.00" y2="687.15" stroke="#000" stroke-width="1.5"/>
<line x1="831.20" y1="680.50" x2="836.20" y2="680.50" stroke="#000" stroke-width="1.5"/>
<line x1="1420.00" y1="680.50" x2="1415.00" y2="680.50" stroke="#000" stroke-width="1.5"/>
<line x1="831.20" y1="674.73" x2="836.20" y2="674.73" stroke="#000" stroke-width="1.5"/>
<line x1="1420.00" y1="674.73" x2="1415.00" y2="674.73" stroke="#000" stroke-width="1.5"/>
<line x1="831.20" y1="669.65" x2="836.20" y2="669.65" stroke="#000" stroke-width="1.5"/>
<line x1="1420.00" y1="669.65" x2="1415.00" y2="669.65" stroke="#000" stroke-width="1.5"/>
<line x1="831.20" y1="665.10" x2="840.20" y2="665.10" stroke="#000" stroke-width="1.5"/>
<line x1="1420.00" y1="665.10" x2="1411.00" y2="665.10" stroke="#000" stroke-width="1.5"/>
<line x1="831.20" y1="635.18" x2="836.20" y2="635.18" stroke="#000" stroke-width="1.5"/>
<line x1="1420.00" y1="635.18" x2="1415.00" y2="635.18" stroke="#000" stroke-width="1.5"/>
<line x1="831.20" y1="617.67" x2="836.20" y2="617.67" stroke="#000" stroke-width="1.5"/>
<line x1="1420.00" y1="617.67" x2="1415.00" y2="617.67" stroke="#000" stroke-width="1.5"/>
<path d="M897,746.1 L1339.5,1043" stroke="#000" stroke-width="2" stroke-dasharray="11.2,13.7" fill="none"/>
<line x1="879.00" y1="736.10" x2="916.30" y2="736.10" stroke="#000" stroke-width="2"/>
<line x1="879.00" y1="728.60" x2="879.00" y2="743.60" stroke="#000" stroke-width="2"/>
<line x1="916.30" y1="728.60" x2="916.30" y2="743.60" stroke="#000" stroke-width="2"/>
<line x1="897.60" y1="723.70" x2="897.60" y2="751.90" stroke="#000" stroke-width="2"/>
<line x1="890.10" y1="723.70" x2="905.10" y2="723.70" stroke="#000" stroke-width="2"/>
<line x1="890.10" y1="751.90" x2="905.10" y2="751.90" stroke="#000" stroke-width="2"/>
<rect x="891.10" y="729.60" width="13" height="13" fill="#000"/>
<line x1="1097.60" y1="915.70" x2="1136.50" y2="915.70" stroke="#000" stroke-width="2"/>
<line x1="1097.60" y1="908.20" x2="1097.60" y2="923.20" stroke="#000" stroke-width="2"/>
<line x1="1136.50" y1="908.20" x2="1136.50" y2="923.20" stroke="#000" stroke-width="2"/>
<line x1="1117.70" y1="903.30" x2="1117.70" y2="931.50" stroke="#000" stroke-width="2"/>
<line x1="1110.20" y1="903.30" x2="1125.20" y2="903.30" stroke="#000" stroke-width="2"/>
<line x1="1110.20" y1="931.50" x2="1125.20" y2="931.50" stroke="#000" stroke-width="2"/>
<rect x="1111.20" y="909.20" width="13" height="13" fill="#000"/>
<line x1="1302.40" y1="1034.80" x2="1383.80" y2="1034.80" stroke="#000" stroke-width="2"/>
<line x1="1302.40" y1="1027.30" x2="1302.40" y2="1042.30" stroke="#000" stroke-width="2"/>
<line x1="1383.80" y1="1027.30" x2="1383.80" y2="1042.30" stroke="#000" stroke-width="2"/>
<line x1="1342.30" y1="1023.40" x2="1342.30" y2="1050.90" stroke="#000" stroke-width="2"/>
<line x1="1334.80" y1="1023.40" x2="1349.80" y2="1023.40" stroke="#000" stroke-width="2"/>
<line x1="1334.80" y1="1050.90" x2="1349.80" y2="1050.90" stroke="#000" stroke-width="2"/>
<rect x="1335.80" y="1028.30" width="13" height="13" fill="#000"/>
<line x1="1290.00" y1="714.20" x2="1385.00" y2="714.20" stroke="#0f0" stroke-width="2"/>
<line x1="1290.00" y1="706.70" x2="1290.00" y2="721.70" stroke="#0f0" stroke-width="2"/>
<line x1="1385.00" y1="706.70" x2="1385.00" y2="721.70" stroke="#0f0" stroke-width="2"/>
<line x1="1337.30" y1="703.00" x2="1337.30" y2="730.50" stroke="#0f0" stroke-width="2"/>
<line x1="1329.80" y1="703.00" x2="1344.80" y2="703.00" stroke="#0f0" stroke-width="2"/>
<line x1="1329.80" y1="730.50" x2="1344.80" y2="730.50" stroke="#0f0" stroke-width="2"/>
<rect x="1330.80" y="707.70" width="13" height="13" fill="#0f0"/>
<rect x="1209.50" y="624.00" width="13" height="13" fill="#000"/>
<rect x="1209.50" y="669.00" width="13" height="13" fill="#0f0"/>
<g font-family="Liberation Sans" fill="#000">
<text transform="translate(7.65,35.53) scale(0.1000,0.1957)" x="0" y="0" font-size="200" style="stroke-width:10.14px">(</text>
<text transform="translate(19.92,36.32) scale(0.1481,0.1900)" x="0" y="0" font-size="200" style="stroke-width:3.55px">a</text>
<text transform="translate(43.55,35.53) scale(0.1000,0.1957)" x="0" y="0" font-size="200" style="stroke-width:10.14px">)</text>
<text transform="translate(733.96,33.97) scale(0.1074,0.1995)" x="0" y="0" font-size="200" style="stroke-width:9.78px">(</text>
<text transform="translate(746.56,34.90) scale(0.1868,0.2000)" x="0" y="0" font-size="200" style="stroke-width:3.10px">b</text>
<text transform="translate(771.94,33.97) scale(0.1130,0.1995)" x="0" y="0" font-size="200" style="stroke-width:9.60px">)</text>
<text transform="translate(5.96,622.51) scale(0.1074,0.1963)" x="0" y="0" font-size="200" style="stroke-width:9.88px">(</text>
<text transform="translate(17.52,624.22) scale(0.1724,0.1882)" x="0" y="0" font-size="200" style="stroke-width:3.33px">c</text>
<text transform="translate(39.34,622.51) scale(0.1074,0.1963)" x="0" y="0" font-size="200" style="stroke-width:9.88px">)</text>
<text transform="translate(735.91,622.55) scale(0.1037,0.1952)" x="0" y="0" font-size="200" style="stroke-width:10.04px">(</text>
<text transform="translate(748.33,623.80) scale(0.1835,0.1986)" x="0" y="0" font-size="200" style="stroke-width:3.14px">d</text>
<text transform="translate(774.44,622.55) scale(0.1074,0.1952)" x="0" y="0" font-size="200" style="stroke-width:9.91px">)</text>
<text x="109.35" y="52.60" font-size="28" textLength="45.05" lengthAdjust="spacing" fill="#000">WS</text>
<text x="156.75" y="64.10" font-size="19" textLength="9.09" lengthAdjust="spacingAndGlyphs" fill="#000">2</text>
<text x="842.05" y="52.30" font-size="28" textLength="56.23" lengthAdjust="spacing" fill="#000">MoS</text>
<text x="902.25" y="64.10" font-size="19" textLength="8.77" lengthAdjust="spacingAndGlyphs" fill="#000">2</text>
<text x="507.55" y="56.00" font-size="28" textLength="101.60" lengthAdjust="spacing" fill="#000">Tension</text>
<text x="506.55" y="90.30" font-size="28" textLength="169.48" lengthAdjust="spacing" fill="#000">Compression</text>
<text x="1242.25" y="55.40" font-size="28" textLength="101.37" lengthAdjust="spacing" fill="#000">Tension</text>
<text x="1241.25" y="89.00" font-size="28" textLength="169.48" lengthAdjust="spacing" fill="#000">Compression</text>
<text x="528.85" y="640.80" font-size="28" textLength="44.05" lengthAdjust="spacing" fill="#000">WS</text>
<text x="575.15" y="651.80" font-size="19" textLength="8.56" lengthAdjust="spacingAndGlyphs" fill="#000">2</text>
<text x="526.85" y="685.70" font-size="28" textLength="144.74" lengthAdjust="spacing" fill="#000">Unselected</text>
<text x="1255.65" y="640.20" font-size="28" textLength="59.53" lengthAdjust="spacing" fill="#000">MoS</text>
<text x="1316.05" y="650.80" font-size="19" textLength="8.56" lengthAdjust="spacingAndGlyphs" fill="#000">2</text>
<text x="1255.65" y="685.00" font-size="28" textLength="144.52" lengthAdjust="spacing" fill="#000">Unselected</text>
<text x="182.85" y="862.60" font-size="26.5" textLength="174.33" lengthAdjust="spacing" fill="#000">3.63 S/(mμm)</text>
<text x="243.62" y="908.60" font-size="26.5" textLength="20.33" lengthAdjust="spacingAndGlyphs" fill="#000">R</text>
<text x="266.25" y="919.20" font-size="16" textLength="8.57" lengthAdjust="spacingAndGlyphs" fill="#000">J</text>
<text x="274.25" y="908.60" font-size="26.5" textLength="118.59" lengthAdjust="spacing" fill="#000">=167 MΩ</text>
<text x="1100.65" y="832.10" font-size="26.5" textLength="174.33" lengthAdjust="spacing" fill="#000">3.45 S/(mμm)</text>
<text x="1123.06" y="879.10" font-size="26.5" textLength="20.93" lengthAdjust="spacingAndGlyphs" fill="#000">R</text>
<text x="1145.15" y="889.60" font-size="16" textLength="8.23" lengthAdjust="spacingAndGlyphs" fill="#000">J</text>
<text x="1153.95" y="879.10" font-size="26.5" textLength="126.03" lengthAdjust="spacing" fill="#000">= 104 MΩ</text>
<text x="273.55" y="553.20" font-size="31.5" textLength="237.31" lengthAdjust="spacing" fill="#000">Lateral size (μm)</text>
<text x="1006.45" y="553.50" font-size="31.5" textLength="235.40" lengthAdjust="spacing" fill="#000">Lateral size (μm)</text>
<text x="272.95" y="1139.20" font-size="31.5" textLength="239.01" lengthAdjust="spacing" fill="#000">Lateral size (μm)</text>
<text x="1006.15" y="1138.40" font-size="31.5" textLength="237.85" lengthAdjust="spacing" fill="#000">Lateral size (μm)</text>
<text transform="translate(43.80,284.65) rotate(-90)" x="0" y="0" font-size="31" textLength="42.42" lengthAdjust="spacing">GF</text>
<text transform="translate(776.20,269.05) rotate(-90)" x="0" y="0" font-size="31" textLength="41.82" lengthAdjust="spacing">GF</text>
<text transform="translate(29.30,865.75) rotate(-90)" x="0" y="0" font-size="30.5" textLength="75.31" lengthAdjust="spacing">(S/m)</text>
<text transform="translate(28.86,893.18) rotate(-90) scale(0.1345,0.1222)" x="0" y="0" font-size="200" style="stroke-width:2.73px">σ</text>
<text transform="translate(761.30,870.75) rotate(-90)" x="0" y="0" font-size="30.5" textLength="74.69" lengthAdjust="spacing">(S/m)</text>
<text transform="translate(760.86,898.18) rotate(-90) scale(0.1345,0.1222)" x="0" y="0" font-size="200" style="stroke-width:2.73px">σ</text>
<text x="59.31" y="103.40" font-size="27.5" textLength="30.59" lengthAdjust="spacing" fill="#000">25</text>
<text x="74.60" y="217.20" font-size="27.5" textLength="15.29" lengthAdjust="spacingAndGlyphs" fill="#000">0</text>
<text x="50.15" y="331.00" font-size="27.5" textLength="39.75" lengthAdjust="spacing" fill="#000">-25</text>
<text x="50.15" y="444.80" font-size="27.5" textLength="39.75" lengthAdjust="spacing" fill="#000">-50</text>
<text x="78.03" y="520.50" font-size="27.5" textLength="38.23" lengthAdjust="spacing" fill="#000">0.3</text>
<text x="231.73" y="520.50" font-size="27.5" textLength="38.23" lengthAdjust="spacing" fill="#000">0.6</text>
<text x="385.93" y="520.50" font-size="27.5" textLength="38.23" lengthAdjust="spacing" fill="#000">0.9</text>
<text x="539.13" y="520.50" font-size="27.5" textLength="38.23" lengthAdjust="spacing" fill="#000">1.2</text>
<text x="788.31" y="86.00" font-size="27.5" textLength="30.59" lengthAdjust="spacing" fill="#000">30</text>
<text x="788.31" y="210.60" font-size="27.5" textLength="30.59" lengthAdjust="spacing" fill="#000">15</text>
<text x="803.60" y="335.20" font-size="27.5" textLength="15.29" lengthAdjust="spacingAndGlyphs" fill="#000">0</text>
<text x="779.15" y="459.80" font-size="27.5" textLength="39.75" lengthAdjust="spacing" fill="#000">-15</text>
<text x="810.73" y="524.70" font-size="27.5" textLength="38.23" lengthAdjust="spacing" fill="#000">0.6</text>
<text x="964.83" y="524.70" font-size="27.5" textLength="38.23" lengthAdjust="spacing" fill="#000">0.9</text>
<text x="1117.93" y="524.70" font-size="27.5" textLength="38.23" lengthAdjust="spacing" fill="#000">1.2</text>
<text x="1270.93" y="524.70" font-size="27.5" textLength="38.23" lengthAdjust="spacing" fill="#000">1.5</text>
<text x="56.67" y="663.40" font-size="27.5" textLength="38.23" lengthAdjust="spacing" fill="#000">0.1</text>
<text x="41.37" y="769.30" font-size="27.5" textLength="53.52" lengthAdjust="spacing" fill="#000">0.01</text>
<text x="38.81" y="875.20" font-size="27.5" textLength="58.09" lengthAdjust="spacing" fill="#000">1E-3</text>
<text x="38.81" y="981.10" font-size="27.5" textLength="58.09" lengthAdjust="spacing" fill="#000">1E-4</text>
<text x="38.81" y="1087.00" font-size="27.5" textLength="58.09" lengthAdjust="spacing" fill="#000">1E-5</text>
<text x="78.03" y="1104.30" font-size="27.5" textLength="38.23" lengthAdjust="spacing" fill="#000">0.3</text>
<text x="231.73" y="1104.30" font-size="27.5" textLength="38.23" lengthAdjust="spacing" fill="#000">0.6</text>
<text x="385.93" y="1104.30" font-size="27.5" textLength="38.23" lengthAdjust="spacing" fill="#000">0.9</text>
<text x="539.13" y="1104.30" font-size="27.5" textLength="38.23" lengthAdjust="spacing" fill="#000">1.2</text>
<text x="785.07" y="673.60" font-size="27.5" textLength="38.23" lengthAdjust="spacing" fill="#000">0.1</text>
<text x="769.77" y="773.00" font-size="27.5" textLength="53.52" lengthAdjust="spacing" fill="#000">0.01</text>
<text x="767.21" y="872.40" font-size="27.5" textLength="58.09" lengthAdjust="spacing" fill="#000">1E-3</text>
<text x="767.21" y="971.80" font-size="27.5" textLength="58.09" lengthAdjust="spacing" fill="#000">1E-4</text>
<text x="767.21" y="1071.20" font-size="27.5" textLength="58.09" lengthAdjust="spacing" fill="#000">1E-5</text>
<text x="810.73" y="1104.20" font-size="27.5" textLength="38.23" lengthAdjust="spacing" fill="#000">0.6</text>
<text x="964.83" y="1104.20" font-size="27.5" textLength="38.23" lengthAdjust="spacing" fill="#000">0.9</text>
<text x="1117.93" y="1104.20" font-size="27.5" textLength="38.23" lengthAdjust="spacing" fill="#000">1.2</text>
<text x="1270.93" y="1104.20" font-size="27.5" textLength="38.23" lengthAdjust="spacing" fill="#000">1.5</text>
</g>
</svg></body></html>
